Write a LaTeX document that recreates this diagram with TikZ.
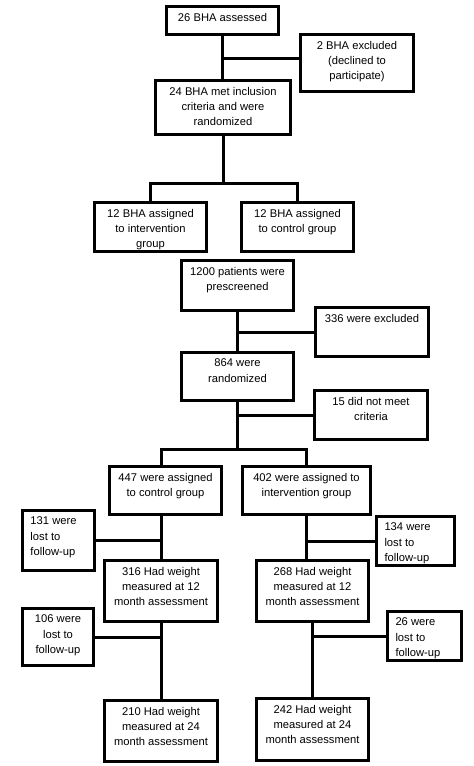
\documentclass[tikz,border=0pt]{standalone}
\usepackage{fontspec}
\setmainfont{Liberation Sans}
\begin{document}
\begin{tikzpicture}[x=1pt,y=-1pt,line width=3pt,
  box/.style 2 args={draw,rectangle,inner sep=0pt,minimum width=#1pt-3pt,minimum height=#2pt-3pt},
  txt/.style={anchor=north,align=center,inner xsep=0pt,inner ysep=6.5pt,font=\fontsize{11.2}{15.4}\selectfont},
  ltxt/.style={txt,anchor=north west,align=left,inner xsep=8pt}]
\useasboundingbox (0,0) rectangle (474,766);
\node[box={115}{31}] (assess) at (222.5,20.5) {};
\node[txt] (assess-t) at (assess.north) {26 BHA assessed};
\node[box={116}{60}] (excl) at (357,63) {};
\node[txt] (excl-t) at (excl.north) {2 BHA excluded\\(declined to\\participate)};
\node[box={138}{57}] (incl) at (223,107.5) {};
\node[txt] (incl-t) at (incl.north) {24 BHA met inclusion\\criteria and were\\randomized};
\node[box={115}{52}] (bhaint) at (150.5,227) {};
\node[txt] (bhaint-t) at (bhaint.north) {12 BHA assigned\\to intervention\\group};
\node[box={115}{52}] (bhactl) at (297.5,227) {};
\node[txt] (bhactl-t) at (bhactl.north) {12 BHA assigned\\to control group};
\node[box={115}{53}] (prescr) at (237.5,285.5) {};
\node[txt] (prescr-t) at (prescr.north) {1200 patients were\\prescreened};
\node[box={116}{52}] (excl336) at (372,332) {};
\node[txt] (excl336-t) at (excl336.north) {336 were excluded};
\node[box={115}{51}] (rand) at (237.5,376.5) {};
\node[txt] (rand-t) at (rand.north) {864 were\\randomized};
\node[box={116}{52}] (notmeet) at (371,415) {};
\node[txt] (notmeet-t) at (notmeet.north) {15 did not meet\\criteria};
\node[box={115}{51}] (ctl447) at (165.5,490.5) {};
\node[txt] (ctl447-t) at (ctl447.north) {447 were assigned\\to control group};
\node[box={131}{51}] (int402) at (306.5,490.5) {};
\node[txt] (int402-t) at (int402.north) {402 were assigned to\\intervention group};
\node[box={75}{63}] (lost131) at (58.5,540.5) {};
\node[ltxt] (lost131-t) at (lost131.north west) {131 were\\lost to\\follow-up};
\node[box={116}{64}] (w316) at (161,591) {};
\node[txt] (w316-t) at (w316.north) {316 Had weight\\measured at 12\\month assessment};
\node[box={81}{52}] (lost134) at (415.5,541) {};
\node[ltxt] (lost134-t) at (lost134.north west) {134 were\\lost to\\follow-up};
\node[box={115}{64}] (w268) at (312.5,591) {};
\node[txt] (w268-t) at (w268.north) {268 Had weight\\measured at 12\\month assessment};
\node[box={74}{60}] (lost106) at (58,637) {};
\node[txt] (lost106-t) at (lost106.north) {106 were\\lost to\\follow-up};
\node[box={116}{64}] (w210) at (161,731) {};
\node[txt] (w210-t) at (w210.north) {210 Had weight\\measured at 24\\month assessment};
\node[box={77}{52}] (lost26) at (424.5,636) {};
\node[ltxt] (lost26-t) at (lost26.north west) {26 were\\lost to\\follow-up};
\node[box={115}{65}] (w242) at (312.5,729.5) {};
\node[txt] (w242-t) at (w242.north) {242 Had weight\\measured at 24\\month assessment};
\coordinate (j1) at (222.5,58);
\coordinate (s1) at (223,183);
\coordinate (s2) at (237.5,449);
\draw (assess.south) -- (assess.south |- incl.north);
\draw (j1) -- (j1 -| excl.west);
\draw (incl.south) -- (s1);
\draw (bhaint.north) |- (s1) -| (bhactl.north);
\draw (prescr.south) -- (rand.north);
\draw (excl336.west) -- (excl336.west -| prescr.south);
\draw (rand.south) -- (s2);
\draw (notmeet.west) -- (notmeet.west -| rand.south);
\draw (w316.north |- ctl447.north) |- (s2) -| (int402.north);
\draw (w316.north |- ctl447.south) -- (w316.north);
\draw (lost131.east) -- (lost131.east -| w316.north);
\draw (w316.south) -- (w210.north);
\draw (lost106.east) -- (lost106.east -| w316.south);
\draw (int402.south) -- (int402.south |- w268.north);
\draw (lost134.west) -- (lost134.west -| int402.south);
\draw (w268.south) -- (w242.north);
\draw (lost26.west) -- (lost26.west -| w268.south);
\end{tikzpicture}
\end{document}
